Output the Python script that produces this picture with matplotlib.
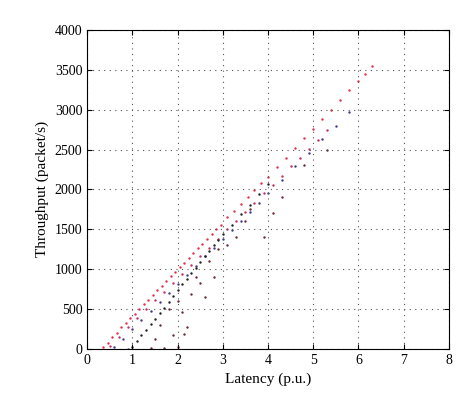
import matplotlib.pyplot as plt

plt.rcParams['font.family'] = ['Liberation Serif', 'DejaVu Serif']

# upper red band
red_x = [0.35, 0.45, 0.55, 0.65, 0.75, 0.85, 0.95, 1.05, 1.15, 1.25, 1.35, 1.45, 1.55, 1.65,
         1.75, 1.85, 1.95, 2.05, 2.15, 2.25, 2.35, 2.45, 2.55, 2.65, 2.75, 2.85, 2.95, 3.1,
         3.25, 3.4, 3.55, 3.7, 3.85, 4.0, 4.2, 4.4, 4.6, 4.8, 5.0, 5.2, 5.4, 5.6, 5.8, 6.0,
         6.15, 6.3]
red_y = [20, 80, 150, 200, 270, 320, 390, 440, 500, 560, 620, 680, 740, 790, 850, 910, 970,
         1030, 1080, 1140, 1200, 1260, 1320, 1380, 1440, 1500, 1560, 1650, 1730, 1820, 1900,
         1990, 2080, 2160, 2280, 2400, 2520, 2640, 2760, 2880, 3000, 3120, 3240, 3360, 3450,
         3550]

# second red band
red2_x = [0.5, 0.7, 0.9, 1.1, 1.3, 1.5, 1.7, 1.9, 2.1, 2.3, 2.5, 2.7, 2.9, 3.1, 3.3, 3.5,
          3.7, 3.9, 4.1, 4.3, 4.5, 4.7, 4.9, 5.1, 5.3]
red2_y = [40, 150, 280, 390, 500, 610, 720, 830, 940, 1050, 1160, 1270, 1380, 1500, 1610,
          1720, 1830, 1950, 2060, 2170, 2290, 2400, 2510, 2620, 2740]

# blue band
blue_x = [0.6, 0.8, 1.0, 1.2, 1.4, 1.6, 1.8, 2.0, 2.2, 2.4, 2.6, 2.8, 3.0, 3.2, 3.4, 3.6,
          3.8, 4.0, 4.3, 4.6, 4.9, 5.2, 5.5, 5.8]
blue_y = [30, 130, 250, 360, 480, 590, 700, 820, 930, 1040, 1160, 1270, 1380, 1490, 1610,
          1720, 1830, 1950, 2120, 2290, 2460, 2630, 2800, 2970]

# black band
black_x = [1.0, 1.1, 1.2, 1.3, 1.4, 1.5, 1.6, 1.7, 1.8, 1.9, 2.0, 2.1, 2.2, 2.3, 2.4, 2.5,
           2.6, 2.7, 2.8, 2.9, 3.0, 3.2, 3.4, 3.6, 3.8, 4.0]
black_y = [20, 100, 170, 240, 310, 380, 450, 520, 590, 660, 740, 810, 880, 950, 1020, 1090,
           1160, 1230, 1300, 1370, 1440, 1560, 1690, 1810, 1940, 2070]

# scattered points
out_x = [1.5, 1.6, 1.8, 1.9, 2.0, 2.1, 2.15, 2.2, 2.3, 2.4, 2.5, 2.6, 2.7, 2.8, 2.9, 3.1,
         3.3, 3.5, 3.6, 3.9, 4.1, 4.3, 4.8, 5.3, 1.7, 1.4, 2.0, 0.9]
out_y = [120, 300, 500, 170, 600, 460, 190, 270, 690, 900, 830, 650, 1100, 900, 1250, 1300,
         1400, 1600, 1750, 1400, 1700, 1900, 2300, 2500, 10, 10, 20, 5]

fig = plt.figure(figsize=(4.74, 4.2), dpi=100)
ax = fig.add_axes([0.184, 0.169, 0.763, 0.76])
ax.scatter(red_x, red_y, s=3, color="#e0304a", linewidths=0)
ax.scatter(red2_x, red2_y, s=3, color="#c03060", linewidths=0)
ax.scatter(blue_x, blue_y, s=3, color="#403a8a", linewidths=0)
ax.scatter(black_x, black_y, s=3, color="#202020", linewidths=0)
ax.scatter(out_x, out_y, s=3, color="#6a2a30", linewidths=0)

ax.set_xlim(0, 8)
ax.set_ylim(0, 4000)
ax.set_xticks(range(0, 9))
ax.set_yticks(range(0, 4001, 500))
ax.grid(True, linestyle=(0, (1, 4)), color="#555555", linewidth=0.8)
ax.tick_params(direction="in", labelsize=10, top=True, right=True)
ax.set_xlabel("Latency (p.u.)", fontsize=11)
ax.set_ylabel("Throughput (packet/s)", fontsize=11)
fig.savefig("out.png")
